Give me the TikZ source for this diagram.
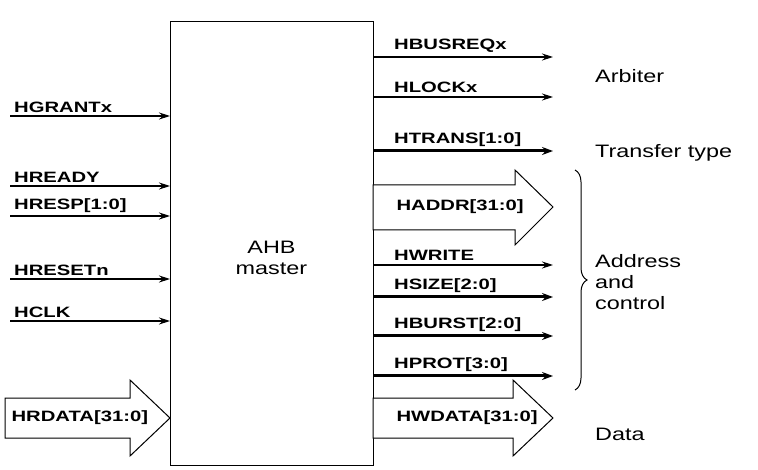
\documentclass[tikz,border=0pt]{standalone}
\usepackage{fontspec}
\setmainfont{Liberation Sans}
\usetikzlibrary{arrows.meta,decorations.pathreplacing}
\newcommand{\sig}[1]{\scalebox{1.35}[1]{\fontsize{15}{17}\selectfont\bfseries #1}}
\newcommand{\grp}[1]{\scalebox{1.3}[1]{\fontsize{18}{24}\selectfont #1}}
\begin{document}
\begin{tikzpicture}[x=1pt,y=-1pt,
  thin/.style={line width=1.2pt,-{Stealth[length=11pt,width=7pt]}},
  thick/.style={line width=3pt,-{Stealth[length=11pt,width=8pt]}},
  lab/.style={anchor=south west,inner sep=1pt},
  grl/.style={anchor=west,inner sep=0pt,align=left,font=\fontsize{18}{21}\selectfont}]
\useasboundingbox (0,0) rectangle (758,470);
\node[draw,line width=1pt,minimum width=203pt,minimum height=443pt,inner sep=0] (m) at (271.5,243.5) {};
\node[align=center,font=\fontsize{18}{21}\selectfont] (t) at (271.5,258) {\grp{AHB}\\\grp{master}};
% left inputs
\foreach \n/\y/\t in {a/116/HGRANTx,b/186/HREADY,c/216/HRESP[1:0],d/279/HRESETn,e/321/HCLK}{
  \coordinate (l\n) at (10,\y);
  \coordinate (r\n) at (170,\y);
  \draw[thin] (l\n) -- (r\n);
  \node[lab] at (13,\y-2) {\sig{\t}};
}
% right outputs
\foreach \n/\y/\t/\s in {a/57/HBUSREQx/thin,b/97/HLOCKx/thin,c/151/HTRANS[1:0]/thick,d/265/HWRITE/thin,e/297/HSIZE[2:0]/thick,f/336/HBURST[2:0]/thick,g/376/HPROT[3:0]/thick}{
  \coordinate (o\n) at (373,\y);
  \coordinate (p\n) at (553,\y);
  \draw[\s] (o\n) -- (p\n);
  \node[lab] at (393,\y-3) {\sig{\t}};
}
% big arrows
\draw[line width=1pt,fill=white] (5,398)--(130,398)--(130,380)--(170,418)--(130,456)--(130,438)--(5,438)--cycle;
\node[anchor=west] at (8,418) {\sig{HRDATA[31:0]}};
\draw[line width=1pt,fill=white] (373,398)--(513,398)--(513,380)--(553,418)--(513,456)--(513,438)--(373,438)--cycle;
\node[anchor=west] at (393,418) {\sig{HWDATA[31:0]}};
\draw[line width=1pt,fill=white] (373,185)--(515,185)--(515,170)--(553,207)--(515,245)--(515,230)--(373,230)--cycle;
\node[anchor=west] at (393,207) {\sig{HADDR[31:0]}};
% brace
\coordinate (bt) at (575,170);
\coordinate (bb) at (575,390);
\draw[line width=1pt,decorate,decoration={brace,amplitude=12pt}] (bt) -- (bb);
\node[grl] at (595,76) {\grp{Arbiter}};
\node[grl] at (595,153) {\grp{Transfer type}};
\node[grl] at (595,282) {\grp{Address}\\\grp{and}\\\grp{control}};
\node[grl] at (595,434) {\grp{Data}};
\end{tikzpicture}
\end{document}
